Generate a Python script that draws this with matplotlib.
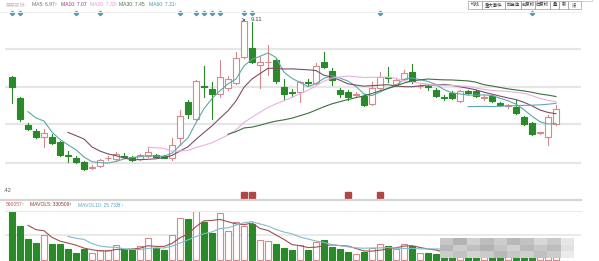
import matplotlib
matplotlib.use('Agg')
import matplotlib.pyplot as plt
from matplotlib.patches import Rectangle
from matplotlib.lines import Line2D
import pandas as pd

plt.rcParams['font.family'] = ['Liberation Sans', 'Noto Sans CJK SC', 'DejaVu Sans']

# daily candles (price)
opens = [7.93, 7.49, 6.93, 6.81, 6.68, 6.68, 6.58, 6.31, 6.25, 6.17,
         6.05, 6.08, 6.24, 6.23, 6.30, 6.27, 6.23, 6.29, 6.31, 6.29,
         6.25, 6.66, 7.41, 7.06, 7.73, 7.68, 7.57, 7.70, 7.80, 8.34,
         8.53, 8.17, 8.23, 8.28, 7.72, 7.62, 7.62, 7.82, 7.80, 8.24,
         8.05, 7.66, 7.62, 7.56, 7.53, 7.37, 7.70, 7.93, 7.78, 7.88,
         8.03, 7.73, 7.75, 7.66, 7.52, 7.59, 7.43, 7.64, 7.64, 7.50,
         7.53, 7.39, 7.32, 7.31, 7.10, 6.97, 6.76, 6.68, 6.95]
highs = [7.95, 7.51, 6.97, 6.85, 6.85, 6.75, 6.60, 6.39, 6.29, 6.19,
         6.10, 6.23, 6.29, 6.37, 6.35, 6.29, 6.33, 6.48, 6.33, 6.31,
         6.66, 7.24, 7.45, 7.86, 8.15, 7.82, 8.28, 7.95, 8.44, 9.11,
         9.06, 8.34, 8.59, 8.32, 7.88, 7.68, 7.84, 7.88, 8.22, 8.44,
         8.11, 7.70, 7.66, 7.62, 7.57, 7.82, 8.03, 8.13, 7.90, 8.07,
         8.20, 7.78, 7.78, 7.70, 7.55, 7.64, 7.66, 7.66, 7.66, 7.55,
         7.55, 7.41, 7.37, 7.45, 7.12, 6.99, 6.79, 7.14, 7.35]
lows = [7.39, 7.02, 6.83, 6.66, 6.48, 6.54, 6.29, 6.17, 6.15, 6.00,
        6.02, 6.06, 6.21, 6.21, 6.25, 6.19, 6.21, 6.27, 6.27, 6.25,
        6.21, 6.52, 7.08, 7.04, 7.51, 7.06, 7.51, 7.66, 7.78, 8.32,
        8.22, 7.70, 7.97, 7.80, 7.45, 7.53, 7.41, 7.76, 7.78, 8.11,
        7.76, 7.51, 7.45, 7.51, 7.33, 7.35, 7.66, 7.82, 7.74, 7.86,
        7.80, 7.70, 7.66, 7.51, 7.45, 7.47, 7.41, 7.57, 7.51, 7.45,
        7.41, 7.33, 7.28, 7.16, 6.93, 6.73, 6.75, 6.52, 6.93]
closes = [7.72, 7.06, 6.85, 6.68, 6.77, 6.56, 6.31, 6.29, 6.17, 6.02,
          6.07, 6.21, 6.26, 6.33, 6.28, 6.21, 6.31, 6.37, 6.28, 6.26,
          6.52, 7.12, 7.16, 7.84, 7.71, 7.57, 7.93, 7.88, 8.32, 9.09,
          8.24, 8.24, 8.24, 7.84, 7.57, 7.60, 7.82, 7.80, 8.15, 8.13,
          7.86, 7.57, 7.51, 7.58, 7.35, 7.70, 7.93, 7.90, 7.86, 8.01,
          7.84, 7.75, 7.72, 7.53, 7.50, 7.49, 7.64, 7.60, 7.53, 7.52,
          7.43, 7.35, 7.34, 7.18, 6.95, 6.75, 6.78, 7.10, 7.26]
# volume, thousand lots
vols = [147, 103, 62, 52, 75, 47, 47, 33, 20, 32,
        22, 30, 30, 45, 30, 30, 42, 67, 35, 30,
        75, 127, 123, 147, 115, 82, 142, 88, 115, 102,
        108, 60, 58, 48, 35, 30, 44, 30, 53, 60,
        40, 33, 23, 17, 23, 37, 47, 43, 33, 49,
        43, 20, 20, 18, 15, 20, 20, 15, 13, 12,
        13, 13, 12, 17, 15, 13, 12, 13, 10]

price_grid = [6.15, 6.95, 7.72, 8.51]
event_days = [0, 1, 8, 11, 21, 23, 24, 25, 26, 29, 30, 46, 65]
notice_days = [29, 30, 42, 46]

ma_periods = [5, 10, 20, 30, 60]
ma_labels = ['MA5: 6.97↑', 'MA10: 7.07', 'MA20: 7.33↑', 'MA30: 7.45', 'MA60: 7.31↑']
ma_text_colors = ['#707070', '#8b3a7a', '#e49ad8', '#3d7a3d', '#5a8fb0']
ma_line_colors = ['#5fa8a8', '#7a5068', '#e8b0e0', '#3f6f3f', '#60a8b8']
buttons = ['均线', '重大事件', '加自选', '前复权', '后复权', '叠', '新', '设']
button_edges = [468, 482, 505, 521, 535, 550, 559, 568, 581]

RED = '#d48a8a'
GREEN = '#2a8a2a'
W, H = 599, 261


def fx(px):
    return px / W


def fy(py):
    return 1 - py / H


fig = plt.figure(figsize=(W / 100, H / 100), dpi=100)

# price panel
ax = fig.add_axes([fx(5), fy(182), fx(581) - fx(5), fy(12) - fy(182)])
for g in price_grid:
    ax.axhline(g, color='#e6e6e6', lw=1.6, zorder=0)

n = len(closes)
xs = list(range(n))
for i in xs:
    up = closes[i] >= opens[i]
    col = RED if up else GREEN
    ax.plot([i, i], [lows[i], highs[i]], color=col, lw=0.8, zorder=2)
    bot = min(opens[i], closes[i])
    h = max(abs(closes[i] - opens[i]), 0.012)
    ax.bar(i, h, bottom=bot, width=0.75, facecolor='white' if up else GREEN,
           edgecolor=col, lw=0.8, zorder=3)

s = pd.Series(closes)
for p, c in zip(ma_periods, ma_line_colors):
    ax.plot(xs, s.rolling(p, min_periods=p - 2).mean(), color=c, lw=0.8, zorder=4)

top = highs.index(max(highs))
ax.annotate('%.2f' % highs[top], xy=(top, highs[top]), xytext=(top + 0.9, highs[top]),
            fontsize=4.5, color='#444444', va='center',
            arrowprops=dict(arrowstyle='<-', lw=0.5, color='#444444'))

ax.set_xlim(-0.875, 71.125)
ax.set_ylim(5.753, 9.272)
ax.axis('off')

# volume panel
axv = fig.add_axes([fx(5), fy(261), fx(581) - fx(5), fy(211) - fy(261)])
axv.axhline(75, color='#e6e6e6', lw=1.2, zorder=0)
for i in xs:
    up = closes[i] >= opens[i]
    col = RED if up else GREEN
    axv.bar(i, vols[i], width=0.75, facecolor='white' if up else GREEN,
            edgecolor=col, lw=0.8, zorder=2)
v = pd.Series(vols)
axv.plot(xs, v.rolling(5, min_periods=3).mean(), color='#a05050', lw=0.8, zorder=3)
axv.plot(xs, v.rolling(10, min_periods=8).mean(), color='#80bccc', lw=0.8, zorder=3)
axv.set_xlim(-0.875, 71.125)
axv.set_ylim(-3, 147)
axv.axis('off')

# blurred watermark over the volume bars
axm = fig.add_axes([fx(440), fy(258), fx(573) - fx(440), fy(238) - fy(258)])
mosaic = [[0.78, 0.70, 0.82, 0.74, 0.80, 0.72, 0.76, 0.84, 0.79, 0.90],
          [0.72, 0.80, 0.75, 0.70, 0.77, 0.82, 0.73, 0.78, 0.74, 0.88],
          [0.80, 0.76, 0.83, 0.79, 0.72, 0.78, 0.81, 0.75, 0.80, 0.92]]
axm.imshow(mosaic, cmap='gray', vmin=0, vmax=1, aspect='auto', interpolation='nearest')
axm.axis('off')

# header line and event markers
fig.add_artist(Line2D([0, fx(581)], [fy(12), fy(12)], color='#eeeeee', lw=0.8))
ax.plot(event_days, [0.994] * len(event_days), 'D', ms=2.2, color='#4a9ab0',
        transform=ax.get_xaxis_transform(), clip_on=False)

fig.text(fx(6), fy(5), '某某股份↑', fontsize=3.5, color='#c8b8c0', va='center')
hx = [32, 61, 90, 119, 149]
for x0, lab, c in zip(hx, ma_labels, ma_text_colors):
    fig.text(fx(x0), fy(5), lab, fontsize=3.6, color=c, va='center')

for lab, x0, x1 in zip(buttons, button_edges[:-1], button_edges[1:]):
    fig.add_artist(Rectangle((fx(x0), fy(9)), fx(x1) - fx(x0), fy(1) - fy(9),
                             transform=fig.transFigure, fill=False, ec='#a0a0a0', lw=0.5))
    fig.text(fx((x0 + x1) / 2), fy(5), lab, fontsize=3.2, color='#333333',
             ha='center', va='center')
fig.add_artist(Rectangle((fx(537), fy(1)), fx(592) - fx(537), fy(-4) - fy(1),
                         transform=fig.transFigure, fill=False, ec='#c0c0c0', lw=0.5))

# volume header
fig.text(fx(4), fy(191), '.42', fontsize=4, color='#555555', va='center')
axv.plot(notice_days, [1.32] * len(notice_days), 's', ms=4, color='#b04848',
         transform=axv.get_xaxis_transform(), clip_on=False)
fig.add_artist(Line2D([0, fx(581)], [fy(200), fy(200)], color='#d4d4d4', lw=1.6))
fig.add_artist(Line2D([fx(5), fx(581)], [fy(211), fy(211)], color='#e8e8e8', lw=0.8))
fig.text(fx(6), fy(205), '580057↑', fontsize=3.6, color='#c06060', va='center')
fig.text(fx(30), fy(205), 'MAVOL5: 330509↑', fontsize=3.6, color='#8a3a3a', va='center')
fig.text(fx(78), fy(205), 'MAVOL10: 25.73万↑', fontsize=3.6, color='#5aa8c0', va='center')

fig.savefig('out.png', dpi=100)
